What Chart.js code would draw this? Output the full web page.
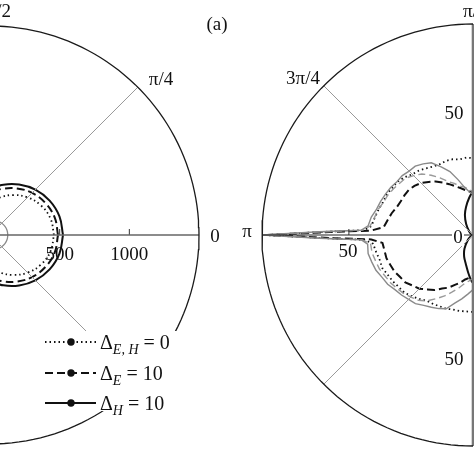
<!DOCTYPE html>
<html>
<head>
<meta charset="utf-8">
<script src="https://cdn.jsdelivr.net/npm/chart.js@4.4.0/dist/chart.umd.min.js"></script>
<style>
  html, body { margin: 0; padding: 0; background: #fff; }
  #wrap { width: 474px; height: 474px; }
</style>
</head>
<body>
<div id="wrap"><canvas id="chart" width="474" height="474"></canvas></div>
<script>
// Left panel (a): angle in degrees, radius in plot units (max 1500)
const angLeft = [0, 15, 30, 45, 60, 75, 90, 105, 120, 135, 150, 165, 180, 195, 210, 225, 240, 255, 270, 285, 300, 315, 330, 345, 360];
const leftDotted = [459, 450, 423, 382, 331, 279, 230, 189, 159, 138, 125, 117, 115, 117, 125, 138, 159, 189, 230, 279, 331, 382, 423, 450, 459];
const leftDashed = [488, 481, 459, 427, 386, 343, 302, 265, 236, 213, 198, 190, 187, 190, 198, 213, 236, 265, 302, 343, 386, 427, 459, 481, 488];
const leftSolid  = [524, 516, 494, 460, 418, 374, 330, 292, 261, 237, 221, 211, 208, 211, 221, 237, 261, 292, 330, 374, 418, 460, 494, 516, 524];
const leftGray   = [128, 127, 124, 119, 112, 105, 98, 92, 88, 85, 83, 82, 82, 82, 83, 85, 88, 92, 98, 105, 112, 119, 124, 127, 128];
const leftTicks = [500, 1000];
const leftMax = 1500;

// Right panel: angle in degrees, radius in plot units (max 85)
const angRight = [85, 90, 95, 100, 105, 110, 115, 120, 125, 130, 135, 140, 145, 150, 155, 160, 165, 170, 175,
  177.5, 178.8, 180, 181.2, 182.5,
  185, 190, 195, 200, 205, 210, 215, 220, 225, 230, 235, 240, 245, 250, 255, 260, 265, 270, 275];
const rightGraySolid = [15, 16.5, 17.5, 19.5, 23, 27.2, 30.3, 33.6, 35, 36.2, 36.4, 37.2, 37.4, 38.3, 38.9, 39.6, 40.2, 41.6, 42.4,
  45, 62, 85, 62, 45,
  42.6, 42.9, 42.2, 41.6, 40.4, 39.7, 38.4, 37.6, 36.7, 36.1, 34.6, 33.6, 32.7, 31.6, 28.4, 26.1, 23.9, 22, 21];
const rightGrayDashed = [17, 17.5, 18.4, 19.6, 20.4, 22.1, 23.8, 26.6, 29.4, 32.1, 33.8, 35.6, 36.2, 37.1, 37.9, 38.4, 39.6, 40.3, 41.6,
  44.5, 61, 84.5, 61, 44.5,
  41.4, 41.3, 40.6, 40.1, 39.1, 38.4, 37.4, 36.6, 35.4, 34.3, 32.4, 29.6, 27.1, 24.4, 22.1, 19.9, 18.6, 17.5, 17];
const rightDotted = [31, 31, 31.3, 30.9, 31.6, 31.8, 31.5, 31.9, 32.8, 33.9, 34.6, 36.1, 37.3, 37.7, 38.4, 38.6, 39.4, 40.2, 41.1,
  44, 60, 84, 60, 44,
  40.4, 39.6, 38.9, 38.9, 37.9, 37.3, 36.5, 36.1, 34.9, 33.6, 32.4, 32.1, 31.7, 31.6, 31.1, 31.1, 30.9, 31, 31];
const rightDashed = [17, 17, 17.6, 18.4, 19.6, 20.9, 22.6, 24.4, 26.3, 27.9, 29.6, 30.8, 31.6, 31.9, 32.1, 32.7, 33.9, 34.9, 36.1,
  41, 58, 83, 58, 41,
  36.6, 36.2, 36.1, 35.4, 34.9, 33.9, 33.3, 31.7, 30.6, 28.6, 27.1, 24.9, 23.4, 21.4, 19.9, 18.2, 17.3, 16.5, 16];
const angRightSolid = [80, 90, 96, 104, 112, 122, 135, 150, 180, 210, 225, 238, 248, 256, 264, 270, 280];
const rightSolid = [18, 17.3, 15, 11.6, 8.7, 5.2, 2.3, 0.8, 0, 1, 3, 6.5, 9.5, 12, 16, 19.3, 20];
const rightTicks = [50];
const rightMax = 85;

// where each panel sits on the canvas (pixels)
const leftPanel = { cx: -10, cy: 235, k: 209 / leftMax };
const rightPanel = { cx: 473, cy: 235, k: 211 / rightMax };

function polar(panel, r, deg) {
  const a = deg * Math.PI / 180;
  return { x: panel.cx + r * panel.k * Math.cos(a), y: panel.cy - r * panel.k * Math.sin(a) };
}

function curve(panel, angles, radii) {
  return angles.map((a, i) => polar(panel, radii[i], a));
}

function arc(panel, r, from, to) {
  let pts = [];
  for (let a = from; a <= to; a += 2) pts.push(polar(panel, r, a));
  return pts;
}

function line(data, color, width, dash, tension) {
  return {
    data: data,
    showLine: true,
    pointRadius: 0,
    borderColor: color,
    borderWidth: width,
    borderDash: dash || [],
    tension: tension || 0,
    fill: false
  };
}

const datasets = [
  // frames
  line(arc(leftPanel, leftMax, -90, 90), '#1a1a1a', 1.3),
  line([polar(leftPanel, 0, 45), polar(leftPanel, leftMax, 45)], '#999', 1),
  line([polar(leftPanel, 0, -45), polar(leftPanel, leftMax, -45)], '#999', 1),
  line([polar(leftPanel, 0, 0), polar(leftPanel, leftMax, 0)], '#666', 1.6),
  line([polar(rightPanel, rightMax, 180), polar(rightPanel, 0, 180)], '#222', 1.2),
  line(arc(rightPanel, rightMax, 90, 270), '#1a1a1a', 1.3),
  line([polar(rightPanel, 0, 135), polar(rightPanel, rightMax, 135)], '#999', 1),
  line([polar(rightPanel, 0, 225), polar(rightPanel, rightMax, 225)], '#999', 1),
  line([polar(rightPanel, rightMax, 90), polar(rightPanel, rightMax, 270)], '#777', 2.6)
];

leftTicks.forEach(v => {
  const p = polar(leftPanel, v, 0);
  datasets.push(line([p, { x: p.x, y: p.y - 6 }], '#333', 1));
});
rightTicks.forEach(v => {
  const p = polar(rightPanel, v, 180);
  datasets.push(line([p, { x: p.x, y: p.y - 6 }], '#333', 1));
});

// curves
datasets.push(
  line(curve(leftPanel, angLeft, leftGray), '#8a8a8a', 1.3, [], 0.4),
  line(curve(leftPanel, angLeft, leftDotted), '#111', 1.8, [1.5, 3], 0.4),
  line(curve(leftPanel, angLeft, leftDashed), '#111', 2, [8, 4], 0.4),
  line(curve(leftPanel, angLeft, leftSolid), '#111', 2, [], 0.4),
  line(curve(rightPanel, angRight, rightGraySolid), '#8a8a8a', 1.4),
  line(curve(rightPanel, angRight, rightGrayDashed), '#9a9a9a', 1.4, [7, 4]),
  line(curve(rightPanel, angRight, rightDotted), '#111', 1.8, [1.5, 3]),
  line(curve(rightPanel, angRight, rightDashed), '#111', 2, [8, 4]),
  line(curve(rightPanel, angRightSolid, rightSolid), '#111', 2, [], 0.3)
);

const SERIF = '"Liberation Serif", "DejaVu Serif", serif';

const textPlugin = {
  id: 'texts',
  afterDatasetsDraw(chart) {
    const ctx = chart.ctx;
    ctx.save();
    ctx.fillStyle = '#111';
    ctx.textBaseline = 'middle';
    ctx.font = '19px ' + SERIF;

    function put(txt, x, y, align) {
      ctx.textAlign = align || 'center';
      ctx.fillText(txt, x, y);
    }

    // angle labels
    put('π/2', 11, 12, 'right');
    put('(a)', 217, 25);
    put('π/4', 161, 80);
    put('0', 215, 237);
    put('π/2', 463, 12, 'left');
    put('3π/4', 303, 79);
    put('π', 247, 232);

    // radial tick labels
    leftTicks.forEach(v => {
      const p = polar(leftPanel, v, 0);
      put(String(v), p.x, p.y + 20);
    });
    rightTicks.forEach(v => {
      const p = polar(rightPanel, v, 180);
      put(String(v), p.x - 1, p.y + 17);
      const q = polar(rightPanel, v, 90);
      put(String(v), q.x - 19, q.y + 3);
      const s = polar(rightPanel, v, 270);
      put(String(v), s.x - 19, s.y + 1);
    });
    ctx.fillStyle = '#fff';
    ctx.fillRect(452, 229, 12, 17);
    ctx.fillStyle = '#111';
    put('0', 458, 238);

    // legend
    ctx.fillStyle = '#fff';
    ctx.fillRect(38, 331, 142, 80);
    const rows = [
      { y: 342, dash: [1.5, 3], sub: 'E, H', val: ' = 0' },
      { y: 373, dash: [8, 4], sub: 'E', val: ' = 10' },
      { y: 403, dash: [], sub: 'H', val: ' = 10' }
    ];
    rows.forEach(r => {
      ctx.strokeStyle = '#111';
      ctx.lineWidth = 1.8;
      ctx.setLineDash(r.dash);
      ctx.beginPath();
      ctx.moveTo(45, r.y);
      ctx.lineTo(96, r.y);
      ctx.stroke();
      ctx.setLineDash([]);
      ctx.fillStyle = '#111';
      ctx.beginPath();
      ctx.arc(71, r.y, 3.7, 0, Math.PI * 2);
      ctx.fill();

      ctx.textAlign = 'left';
      ctx.textBaseline = 'alphabetic';
      ctx.font = '20px ' + SERIF;
      ctx.fillText('Δ', 100, r.y + 7);
      let x = 100 + ctx.measureText('Δ').width;
      ctx.font = 'italic 14px ' + SERIF;
      ctx.fillText(r.sub, x, r.y + 12);
      x += ctx.measureText(r.sub).width;
      ctx.font = '20px ' + SERIF;
      ctx.fillText(r.val, x, r.y + 7);
    });
    ctx.restore();
  }
};

new Chart(document.getElementById('chart'), {
  type: 'scatter',
  data: { datasets: datasets },
  options: {
    responsive: false,
    animation: false,
    layout: { padding: 0 },
    scales: {
      x: { type: 'linear', min: 0, max: 474, display: false },
      y: { type: 'linear', min: 0, max: 474, reverse: true, display: false }
    },
    plugins: {
      legend: { display: false },
      tooltip: { enabled: false }
    }
  },
  plugins: [textPlugin]
});
</script>
</body>
</html>
